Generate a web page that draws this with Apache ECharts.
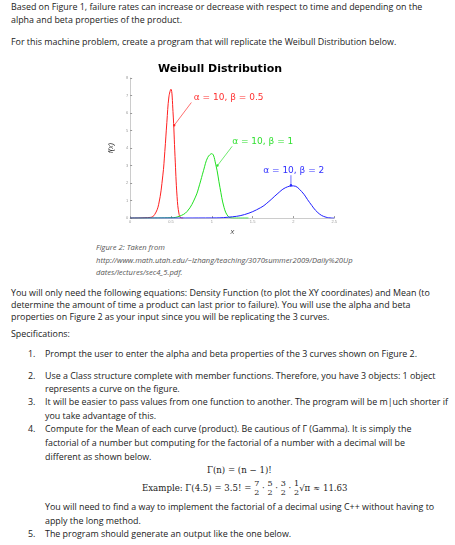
<!DOCTYPE html>
<html><head><meta charset="utf-8">
<script src="https://cdn.jsdelivr.net/npm/echarts@6/dist/echarts.min.js"></script>
<style>
body{margin:0;background:#fff;width:455px;height:545px;overflow:hidden;position:relative;font-family:"Open Sans",sans-serif;color:#222}
.t{position:absolute;white-space:nowrap;font-size:8.9px;line-height:12px;transform:translateY(-50%)}
.c{font-style:italic;color:#555;font-size:7.6px}
.m{font-family:"DejaVu Serif",serif;font-size:8.6px}
.f{display:inline-block;vertical-align:middle;text-align:center;line-height:9px;font-size:8px}
#chart{position:absolute;left:100px;top:55px;width:240px;height:185px}
</style></head><body>
<div class="t" style="left:11px;top:7px">Based on Figure 1, failure rates can increase or decrease with respect to time and depending on the</div>
<div class="t" style="left:11px;top:20px">alpha and beta properties of the product.</div>
<div class="t" style="left:11px;top:42px">For this machine problem, create a program that will replicate the Weibull Distribution below.</div>
<div id="chart"></div>
<div class="t c" style="left:96px;top:247px">Figure 2: Taken from</div>
<div class="t c" style="left:96px;top:260px">http://www.math.utah.edu/~lzhang/teaching/3070summer2009/Daily%20Up</div>
<div class="t c" style="left:96px;top:272px">dates/lectures/sec4_5.pdf.</div>
<div class="t" style="left:11px;top:293px">You will only need the following equations: Density Function (to plot the XY coordinates) and Mean (to</div>
<div class="t" style="left:11px;top:305px">determine the amount of time a product can last prior to failure). You will use the alpha and beta</div>
<div class="t" style="left:11px;top:317px">properties on Figure 2 as your input since you will be replicating the 3 curves.</div>
<div class="t" style="left:11px;top:334px">Specifications:</div>
<div class="t" style="left:28px;top:354px">1.</div><div class="t" style="left:45px;top:354px">Prompt the user to enter the alpha and beta properties of the 3 curves shown on Figure 2.</div>
<div class="t" style="left:28px;top:376px">2.</div><div class="t" style="left:45px;top:376px">Use a Class structure complete with member functions. Therefore, you have 3 objects: 1 object</div>
<div class="t" style="left:45px;top:389px">represents a curve on the figure.</div>
<div class="t" style="left:28px;top:402px">3.</div><div class="t" style="left:45px;top:402px">It will be easier to pass values from one function to another. The program will be m|uch shorter if</div>
<div class="t" style="left:45px;top:416px">you take advantage of this.</div>
<div class="t" style="left:28px;top:429px">4.</div><div class="t" style="left:45px;top:429px">Compute for the Mean of each curve (product). Be cautious of Γ (Gamma). It is simply the</div>
<div class="t" style="left:45px;top:443px">factorial of a number but computing for the factorial of a number with a decimal will be</div>
<div class="t" style="left:45px;top:457px">different as shown below.</div>
<div class="t m" style="left:207px;top:470px">Γ(n) = (n − 1)!</div>
<div class="t m" style="left:142px;top:488px">Example: Γ(4.5) = 3.5! = <span class="f">7<br>2</span> · <span class="f">5<br>2</span> · <span class="f">3<br>2</span> · <span class="f">1<br>2</span>√π ≈ 11.63</div>
<div class="t" style="left:45px;top:507px">You will need to find a way to implement the factorial of a decimal using C++ without having to</div>
<div class="t" style="left:45px;top:521px">apply the long method.</div>
<div class="t" style="left:28px;top:534px">5.</div><div class="t" style="left:45px;top:534px">The program should generate an output like the one below.</div>
<script>
var redX=[0,0.25,0.3,0.35,0.4,0.425,0.45,0.475,0.5,0.525,0.55,0.575,0.6,0.625,0.65];
var redY=[0,0.04,0.2,0.79,2.41,3.8,5.47,6.92,7.36,6.08,3.52,1.23,0.21,0.01,0];
var greenX=[0,0.5,0.6,0.7,0.8,0.85,0.9,0.95,1.0,1.05,1.1,1.15,1.2,1.25,1.3,1.45];
var greenY=[0,0.02,0.1,0.39,1.2,1.9,2.73,3.46,3.68,3.04,1.76,0.62,0.1,0.01,0,0];
var blueX=[0,1.0,1.2,1.4,1.6,1.7,1.8,1.9,2.0,2.1,2.2,2.3,2.4,2.5];
var blueY=[0,0.01,0.05,0.2,0.6,0.95,1.37,1.73,1.84,1.52,0.88,0.31,0.05,0];
var labels=['α = 10, β = 0.5','α = 10, β = 1','α = 10, β = 2'];
function pairs(x,y){return x.map(function(v,i){return [v,y[i]];});}
var ch=echarts.init(document.getElementById('chart'));
function ser(x,y,c){return {type:'line',data:pairs(x,y),smooth:0.4,showSymbol:false,lineStyle:{color:c,width:1},animation:false};}
ch.setOption({
 animation:false,
 title:{text:'Weibull Distribution',left:'center',top:4,textStyle:{fontSize:11,fontWeight:'bold',color:'#000',fontFamily:'DejaVu Sans'}},
 grid:{left:29,right:5,top:23,bottom:20},
 xAxis:{type:'value',min:0,max:2.5,interval:0.5,name:'X',nameLocation:'middle',nameGap:10,nameTextStyle:{fontSize:6,fontStyle:'italic',color:'#333'},
  axisLine:{lineStyle:{color:'#999',width:0.5}},axisTick:{inside:true,length:2},axisLabel:{fontSize:4,color:'#999',margin:2},splitLine:{show:false}},
 yAxis:{type:'value',min:0,max:8,interval:1,name:'f(x)',nameLocation:'middle',nameGap:10,nameTextStyle:{fontSize:7,fontStyle:'italic',color:'#333'},
  axisLine:{show:true,lineStyle:{color:'#999',width:0.5}},axisTick:{show:true,inside:true,length:2},axisLabel:{fontSize:4,color:'#999',margin:2},splitLine:{show:false}},
 series:[ser(redX,redY,'#ff2020'),ser(greenX,greenY,'#20e020'),ser(blueX,blueY,'#2020ff')]
});
var ann=[[labels[0],'#ff3030',[0.78,6.87],[0.75,6.6],[0.54,5.3]],[labels[1],'#30e030',[1.25,4.34],[1.25,4.1],[1.07,3.0]],[labels[2],'#3030ff',[1.63,2.7],[1.97,2.45],[1.97,1.88]]];
var g=[];
ann.forEach(function(a){
 var p=ch.convertToPixel({gridIndex:0},a[2]),s=ch.convertToPixel({gridIndex:0},a[3]),e=ch.convertToPixel({gridIndex:0},a[4]);
 g.push({type:'text',x:p[0],y:p[1],style:{text:a[0],fill:a[1],fontSize:9,fontFamily:'DejaVu Sans',verticalAlign:'middle'}});
 g.push({type:'line',shape:{x1:s[0],y1:s[1],x2:e[0],y2:e[1]},style:{stroke:a[1],lineWidth:0.7}});
 g.push({type:'circle',shape:{cx:e[0],cy:e[1],r:1.2},style:{fill:a[1]}});
});
ch.setOption({graphic:g});
</script>
</body></html>
